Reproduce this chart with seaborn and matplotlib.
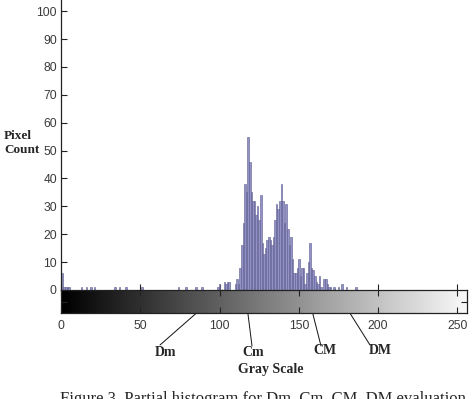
import numpy as np
import matplotlib
matplotlib.use("Agg")
import matplotlib.pyplot as plt
import seaborn as sns

# ----------------------------------------------------------------------
# Datos: niveles de gris con cuenta > 0 y su numero de pixeles
# ----------------------------------------------------------------------
gray_levels = [1, 2, 3, 4, 5, 13, 16, 19, 21, 34, 37, 41, 51, 74, 79, 85, 89, 99, 100,
               103, 104, 105, 106, 110, 111, 112, 113, 114, 115, 116, 117, 118, 119,
               120, 121, 122, 123, 124, 125, 126, 127, 128, 129, 130, 131, 132, 133,
               134, 135, 136, 137, 138, 139, 140, 141, 142, 143, 144, 145, 146, 147,
               148, 149, 150, 151, 152, 153, 154, 155, 156, 157, 158, 159, 160, 161,
               162, 163, 164, 166, 167, 168, 169, 170, 172, 175, 177, 180, 186]
pixel_counts = [6, 1, 1, 1, 1, 1, 1, 1, 1, 1, 1, 1, 1, 1, 1, 1, 1, 1, 2,
                3, 2, 3, 3, 2, 4, 2, 8, 16, 24, 38, 35, 55, 46,
                35, 32, 32, 27, 30, 25, 34, 17, 13, 15, 18, 19, 18, 16,
                19, 25, 31, 29, 32, 38, 32, 24, 31, 22, 16, 19, 11, 6,
                6, 8, 11, 5, 8, 8, 2, 6, 10, 17, 8, 7, 5, 3,
                2, 5, 1, 4, 4, 2, 1, 1, 1, 1, 2, 1, 1]

marker_names = ["Dm", "Cm", "CM", "DM"]
marker_levels = [102, 116, 155, 173]

x_ticks = [0, 50, 100, 150, 200, 250]
y_ticks = [0, 10, 20, 30, 40, 50, 60, 70, 80, 90, 100]

# ----------------------------------------------------------------------
# Figura
# ----------------------------------------------------------------------
sns.set_style("ticks")
plt.rcParams["font.family"] = ["Liberation Sans", "DejaVu Sans"]

W, H = 474, 399
fig = plt.figure(figsize=(W / 100, H / 100), dpi=100)

def px_box(x0, y0, x1, y1):
    # caja en pixeles de imagen (origen arriba a la izquierda) -> fraccion de figura
    return [x0 / W, (H - y1) / H, (x1 - x0) / W, (y1 - y0) / H]

ax = fig.add_axes(px_box(61, 0, 467, 290))
cax = fig.add_axes(px_box(61, 290, 467, 313))

sns.histplot(x=gray_levels, weights=pixel_counts, discrete=True, ax=ax,
             color="#9292c6", edgecolor="#5c5c8e", linewidth=0.4, alpha=1)

ax.set_xlim(0, 256)
ax.set_ylim(0, 104)
ax.set_xticks(x_ticks)
ax.set_yticks(y_ticks)
ax.set_xticklabels([])
ax.set_xlabel("")
ax.set_ylabel("")
ax.tick_params(axis="x", direction="in", length=4, width=0.8, color="#222222")
ax.tick_params(axis="y", direction="in", length=4, width=0.8, color="#222222",
               labelsize=8.7, labelcolor="#3a3a3a", pad=3)
for s in ["top", "right", "bottom"]:
    ax.spines[s].set_visible(False)
ax.spines["left"].set_linewidth(0.9)
ax.spines["left"].set_color("#222222")
ax.patch.set_alpha(0)

# barra de escala de grises
gradient = np.arange(256).reshape(1, -1)
cax.imshow(gradient, cmap="gray", aspect="auto", extent=(0, 256, 0, 1), vmin=0, vmax=262)
cax.set_xlim(0, 256)
cax.set_ylim(0, 1)
cax.set_xticks(x_ticks)
cax.set_yticks([0.5])
cax.set_yticklabels([])
cax.tick_params(axis="x", direction="in", top=True, bottom=True, length=4, width=0.8,
                color="#222222", labelsize=8.7, labelcolor="#3a3a3a", pad=5)
cax.tick_params(axis="y", direction="in", left=True, right=True, length=4, width=0.8,
                color="#222222")
for s in cax.spines.values():
    s.set_linewidth(0.9)
    s.set_color("#222222")

# etiquetas y lineas de Dm, Cm, CM, DM
label_px = [(166, 353), (253, 353), (325, 351), (380, 351)]
tail_px = [(160, 345), (252, 346), (321, 346), (370, 345)]
for name, lvl, (tx, ty), (lx, ly) in zip(marker_names, marker_levels, label_px, tail_px):
    ax.annotate("", xy=(lvl, 0), xycoords="data",
                xytext=(lx, H - ly), textcoords="figure pixels",
                arrowprops=dict(arrowstyle="-", lw=0.7, color="#111111",
                                shrinkA=0, shrinkB=0),
                annotation_clip=False)
    fig.text(tx / W, (H - ty) / H, name, ha="center", va="center",
             fontsize=10, fontweight="bold", family="Liberation Serif")

fig.text(271 / W, (H - 370) / H, "Gray Scale", ha="center", va="center",
         fontsize=10, fontweight="bold", family="Liberation Serif")
fig.text(4 / W, (H - 143) / H, "Pixel\nCount", ha="left", va="center",
         fontsize=9.5, fontweight="bold", family="Liberation Serif", linespacing=1.15)

fig.text(60 / W, (H - 391) / H,
         "Figure 3. Partial histogram for Dm, Cm, CM, DM evaluation",
         ha="left", va="top", fontsize=12, family="Liberation Serif")

fig.savefig("out.png", dpi=100)
